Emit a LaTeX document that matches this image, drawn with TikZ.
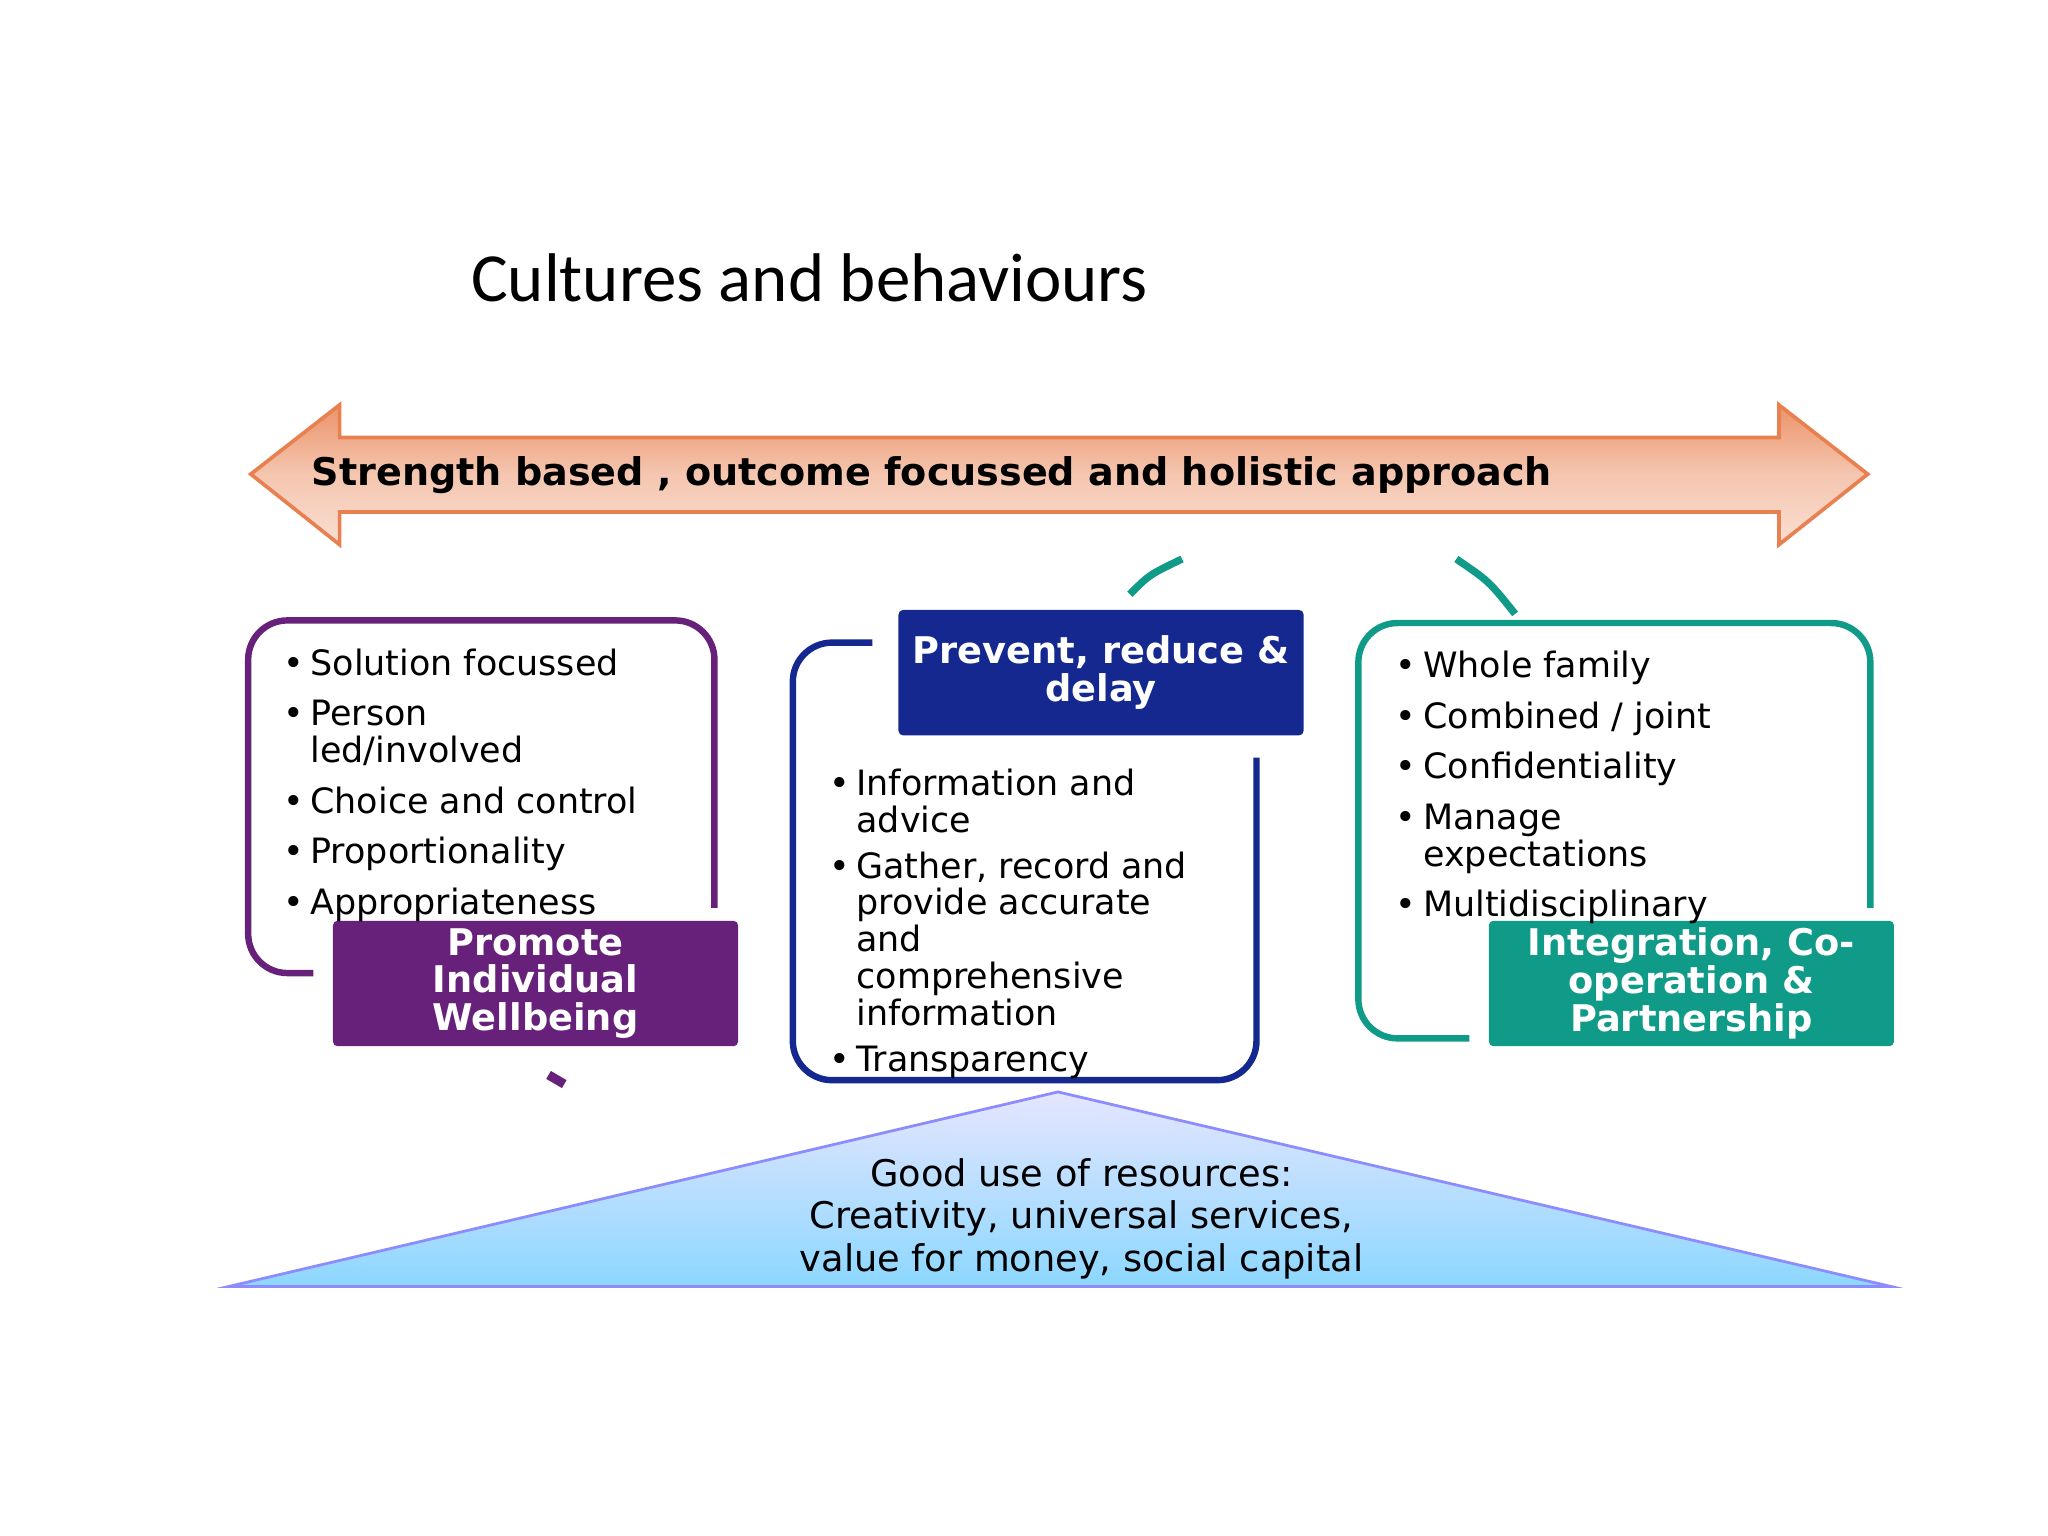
\documentclass[tikz,border=0pt]{standalone}
\usepackage{fontspec}
\setmainfont{DejaVu Sans}
\newfontfamily\titlefont{Carlito}
\definecolor{pur}{HTML}{68217A}
\definecolor{blu}{HTML}{14288F}
\definecolor{teal}{HTML}{0F9B87}
\definecolor{orl}{HTML}{E8804F}
\newcommand{\itm}[1]{\makebox[0.21cm][l]{\textbullet}#1}
\newcommand{\cnt}[1]{\hspace*{0.21cm}#1}
\begin{document}
\begin{tikzpicture}[x=0.01cm,y=-0.01cm,
  list/.style={anchor=north west,align=left,inner sep=0pt,font=\fontsize{7.6}{8}\selectfont},
  lbl/.style={anchor=center,align=center,text=white,font=\bfseries\fontsize{8}{8.2}\selectfont,minimum width=3.1cm,minimum height=0.96cm,inner sep=1pt,rounded corners=1pt},
  frame/.style={line width=1.4pt,rounded corners=0.3cm}]
\useasboundingbox (0,0) rectangle (1568,1176);
\node[anchor=west,font=\titlefont\fontsize{15}{15}\selectfont,inner sep=0pt] (title) at (360,213) {Cultures and behaviours};
% double arrow
\path[draw=orl,line width=0.8pt,top color=orl!85,bottom color=orl!25,middle color=orl!45]
  (192,363) -- (260,310) -- (260,335) -- (1362,335) -- (1362,310) -- (1430,363) -- (1362,417) -- (1362,392) -- (260,392) -- (260,417) -- cycle;
\node[anchor=west,inner sep=0pt,font=\bfseries\fontsize{8.3}{9}\selectfont] (arrowtext) at (238,364) {Strength based , outcome focussed and holistic approach};
% circular arrow fragments
\draw[teal,line width=1.6pt] (865,455) .. controls (880,440) .. (905,428);
\draw[teal,line width=1.6pt] (1115,428) .. controls (1140,445) .. (1160,470);
\draw[pur,line width=2pt] (420,823) -- (432,830);
% left
\draw[pur,frame] (547,695) -- (547,475) -- (190,475) -- (190,745) -- (240,745);
\node[lbl,fill=pur] (l) at (410,753) {Promote\\Individual\\Wellbeing};
\node[list] (ll) at (216,496) {\itm{Solution focussed}\\[3pt]\itm{Person}\\\cnt{led/involved}\\[3pt]\itm{Choice and control}\\[3pt]\itm{Proportionality}\\[3pt]\itm{Appropriateness}};
% middle
\draw[blu,frame] (668,492) -- (607,492) -- (607,827) -- (962,827) -- (962,580);
\node[lbl,fill=blu] (m) at (843,515) {Prevent, reduce \&\\delay};
\node[list] (ml) at (634,588) {\itm{Information and}\\\cnt{advice}\\[2pt]\itm{Gather, record and}\\\cnt{provide accurate}\\\cnt{and}\\\cnt{comprehensive}\\\cnt{information}\\[2pt]\itm{Transparency}};
% right
\draw[teal,frame] (1432,695) -- (1432,477) -- (1040,477) -- (1040,795) -- (1125,795);
\node[lbl,fill=teal] (r) at (1295,753) {Integration, Co-\\operation \&\\Partnership};
\node[list] (rl) at (1068,498) {\itm{Whole family}\\[3pt]\itm{Combined / joint}\\[3pt]\itm{Confidentiality}\\[3pt]\itm{Manage}\\\cnt{expectations}\\[3pt]\itm{Multidisciplinary}};
% triangle
\path[draw=blue!45,line width=0.6pt,top color=white!90!blue,bottom color=blue!35!cyan!45]
  (175,985) -- (810,836) -- (1448,985) -- cycle;
\node[align=center,inner sep=0pt,font=\fontsize{8}{9.2}\selectfont] (tri) at (828,933) {Good use of resources:\\Creativity, universal services,\\value for money, social capital};
\end{tikzpicture}
\end{document}
